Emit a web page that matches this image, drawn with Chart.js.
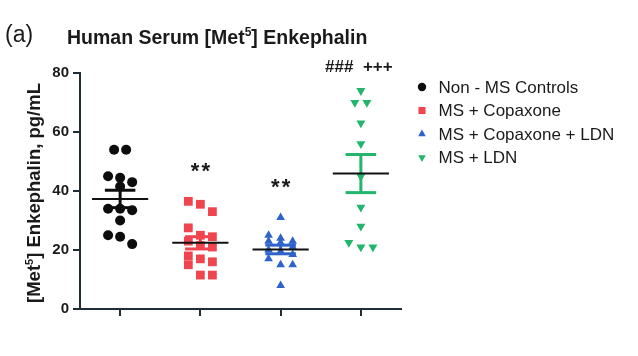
<!DOCTYPE html>
<html>
<head>
<meta charset="utf-8">
<script src="https://cdn.jsdelivr.net/npm/chart.js@4"></script>
<style>
  html, body { margin: 0; padding: 0; background: #fff; }
  #wrap { width: 638px; height: 356px; }
</style>
</head>
<body>
<div id="wrap"><canvas id="dotPlot" width="638" height="356"></canvas></div>
<script>
  // groups and values (pg/mL)
  const groups = ['Non - MS Controls', 'MS + Copaxone', 'MS + Copaxone + LDN', 'MS + LDN'];
  const nonMsControls = [54, 54, 45, 44.5, 43, 41.5, 34, 34, 33.5, 30, 25, 24.5, 22];
  const msCopaxone = [36.5, 35.5, 33, 27.5, 25, 24.5, 23, 21.5, 21, 18, 17, 16, 15, 11.5, 11.5];
  const msCopaxoneLdn = [31, 25, 24, 23, 23, 22.5, 21, 20, 19.5, 18.5, 17, 15, 15, 8];
  const msLdn = [74, 70, 70, 63, 56, 45, 34.5, 28, 22.5, 21, 21];
  const sigMarks = ['', '**', '**', '###  +++'];
  const yTicks = [0, 20, 40, 60, 80];

  const series = [nonMsControls, msCopaxone, msCopaxoneLdn, msLdn];
  const colors = ['#0d0d0d', '#f0454f', '#2e63c9', '#22b56b'];
  const shapes = ['circle', 'rect', 'triangle', 'triangle'];
  const radii = [5, 6.2, 5, 5.2];
  const legendRadii = [4.2, 5, 4.4, 4.4];
  const axisColor = '#1f2d35';
  const textColor = '#1a1a1a';
  const FONT = "'Liberation Sans', Arial, Helvetica, sans-serif";

  Chart.defaults.font.family = FONT;

  // spread close values side by side (rows of up to 3)
  function swarm(values, center) {
    const idx = values.map((v, i) => i).sort((a, b) => values[b] - values[a]);
    const rows = [];
    idx.forEach((i) => {
      const row = rows[rows.length - 1];
      if (row && row.length < 3 && values[row[0]] - values[i] <= 3.5) row.push(i);
      else rows.push([i]);
    });
    const pts = [];
    rows.forEach((row) =>
      row.forEach((i, j) => pts.push({ x: center + (j - (row.length - 1) / 2) * 0.15, y: values[i] }))
    );
    return pts;
  }

  const mean = (a) => a.reduce((s, v) => s + v, 0) / a.length;
  const sem = (a) => {
    const m = mean(a);
    return Math.sqrt(a.reduce((s, v) => s + (v - m) ** 2, 0) / (a.length - 1) / a.length);
  };

  const segment = (pts, color, width, order) => ({
    data: pts,
    showLine: true,
    borderColor: color,
    borderWidth: width,
    pointRadius: 0,
    fill: false,
    order,
  });

  const pointSets = series.map((vals, g) => ({
    label: groups[g],
    data: swarm(vals, g + 1),
    backgroundColor: colors[g],
    borderColor: colors[g],
    borderWidth: 0,
    pointStyle: shapes[g],
    pointRotation: g === 3 ? 180 : 0,
    pointRadius: radii[g],
    order: 3,
  }));

  const statSets = [];
  series.forEach((vals, g) => {
    const c = g + 1;
    const m = mean(vals);
    const e = sem(vals);
    statSets.push(segment([{ x: c, y: m - e }, { x: c, y: m + e }], colors[g], 3, 2));
    statSets.push(segment([{ x: c - 0.19, y: m + e }, { x: c + 0.19, y: m + e }], colors[g], 3, 2));
    statSets.push(segment([{ x: c - 0.19, y: m - e }, { x: c + 0.19, y: m - e }], colors[g], 3, 2));
    statSets.push(segment([{ x: c - 0.35, y: m }, { x: c + 0.35, y: m }], '#111', 2, 1));
  });

  // draws text pieces with a raised small "5"
  function drawParts(ctx, parts, x, y) {
    parts.forEach((p) => {
      ctx.font = p.font;
      ctx.fillText(p.text, x, y + (p.dy || 0));
      x += ctx.measureText(p.text).width;
    });
  }
  function partsWidth(ctx, parts) {
    return parts.reduce((w, p) => {
      ctx.font = p.font;
      return w + ctx.measureText(p.text).width;
    }, 0);
  }

  function legendMarker(ctx, style, rotation, radius, x, y) {
    if (Chart.helpers && Chart.helpers.drawPoint) {
      Chart.helpers.drawPoint(ctx, { pointStyle: style, rotation, radius, borderWidth: 0 }, x, y);
    } else {
      ctx.beginPath();
      ctx.arc(x, y, 4, 0, Math.PI * 2);
      ctx.fill();
    }
  }

  const textPlugin = {
    id: 'figureText',
    afterDraw(chart) {
      const { ctx, chartArea, scales } = chart;
      ctx.save();
      ctx.fillStyle = textColor;
      ctx.textBaseline = 'alphabetic';
      ctx.textAlign = 'left';

      // title
      ctx.font = '23px ' + FONT;
      ctx.fillText('(a)', 5, 42);
      drawParts(ctx, [
        { text: 'Human Serum [Met', font: 'bold 19.5px ' + FONT },
        { text: '5', font: 'bold 12px ' + FONT, dy: -8 },
        { text: '] Enkephalin', font: 'bold 19.5px ' + FONT },
      ], 67, 44);

      // y axis title
      const yParts = [
        { text: '[Met', font: 'bold 18.5px ' + FONT },
        { text: '5', font: 'bold 11px ' + FONT, dy: -7 },
        { text: '] Enkephalin, pg/mL', font: 'bold 18.5px ' + FONT },
      ];
      const w = partsWidth(ctx, yParts);
      ctx.save();
      ctx.translate(40, (chartArea.top + chartArea.bottom) / 2 + 2);
      ctx.rotate(-Math.PI / 2);
      drawParts(ctx, yParts, -w / 2, 0);
      ctx.restore();

      // legend
      const lx = chartArea.right + 21;
      groups.forEach((label, g) => {
        const ly = chartArea.top + 14 + g * 23.5;
        ctx.fillStyle = colors[g];
        legendMarker(ctx, shapes[g], g === 3 ? 180 : 0, legendRadii[g], lx, ly);
        ctx.fillStyle = textColor;
        ctx.font = '17px ' + FONT;
        ctx.textBaseline = 'middle';
        ctx.fillText(label, lx + 16.5, ly + 1);
      });

      // significance marks
      ctx.textBaseline = 'alphabetic';
      ctx.textAlign = 'center';
      sigMarks.forEach((mark, g) => {
        if (!mark) return;
        const top = scales.y.getPixelForValue(Math.max(...series[g]));
        const py = Math.max(top - 36, chartArea.top - 7);
        const px = scales.x.getPixelForValue(g + 1);
        if (mark.includes('*')) {
          ctx.font = 'bold 22px ' + FONT;
          ctx.letterSpacing = '2px';
          ctx.fillText(mark, px + 1, py + 12.5);
        } else {
          ctx.font = 'bold 17px ' + FONT;
          ctx.letterSpacing = '0px';
          ctx.fillText(mark, px - 2, py + 6);
        }
      });
      ctx.restore();
    },
  };

  new Chart(document.getElementById('dotPlot'), {
    type: 'scatter',
    data: { datasets: [...pointSets, ...statSets] },
    options: {
      responsive: false,
      animation: false,
      events: [],
      layout: { padding: { left: 36, top: 73, right: 237, bottom: 0 } },
      plugins: {
        title: { display: false },
        tooltip: { enabled: false },
        legend: { display: false },
      },
      scales: {
        x: {
          type: 'linear',
          min: 0.5,
          max: 4.5,
          afterBuildTicks: (s) => { s.ticks = groups.map((_, i) => ({ value: i + 1 })); },
          ticks: { display: false },
          grid: { drawOnChartArea: false, drawTicks: true, tickLength: 7, color: axisColor, lineWidth: 2 },
          border: { color: axisColor, width: 2 },
          afterFit: (s) => { s.height = 47; },
        },
        y: {
          type: 'linear',
          min: 0,
          max: 80,
          afterBuildTicks: (s) => { s.ticks = yTicks.map((v) => ({ value: v })); },
          ticks: { color: textColor, padding: 4, font: { size: 15, weight: 'bold' } },
          grid: { drawOnChartArea: false, drawTicks: true, tickLength: 7, color: axisColor, lineWidth: 2 },
          border: { color: axisColor, width: 2 },
          afterFit: (s) => { s.width = 44; },
        },
      },
    },
    plugins: [textPlugin],
  });
</script>
</body>
</html>
